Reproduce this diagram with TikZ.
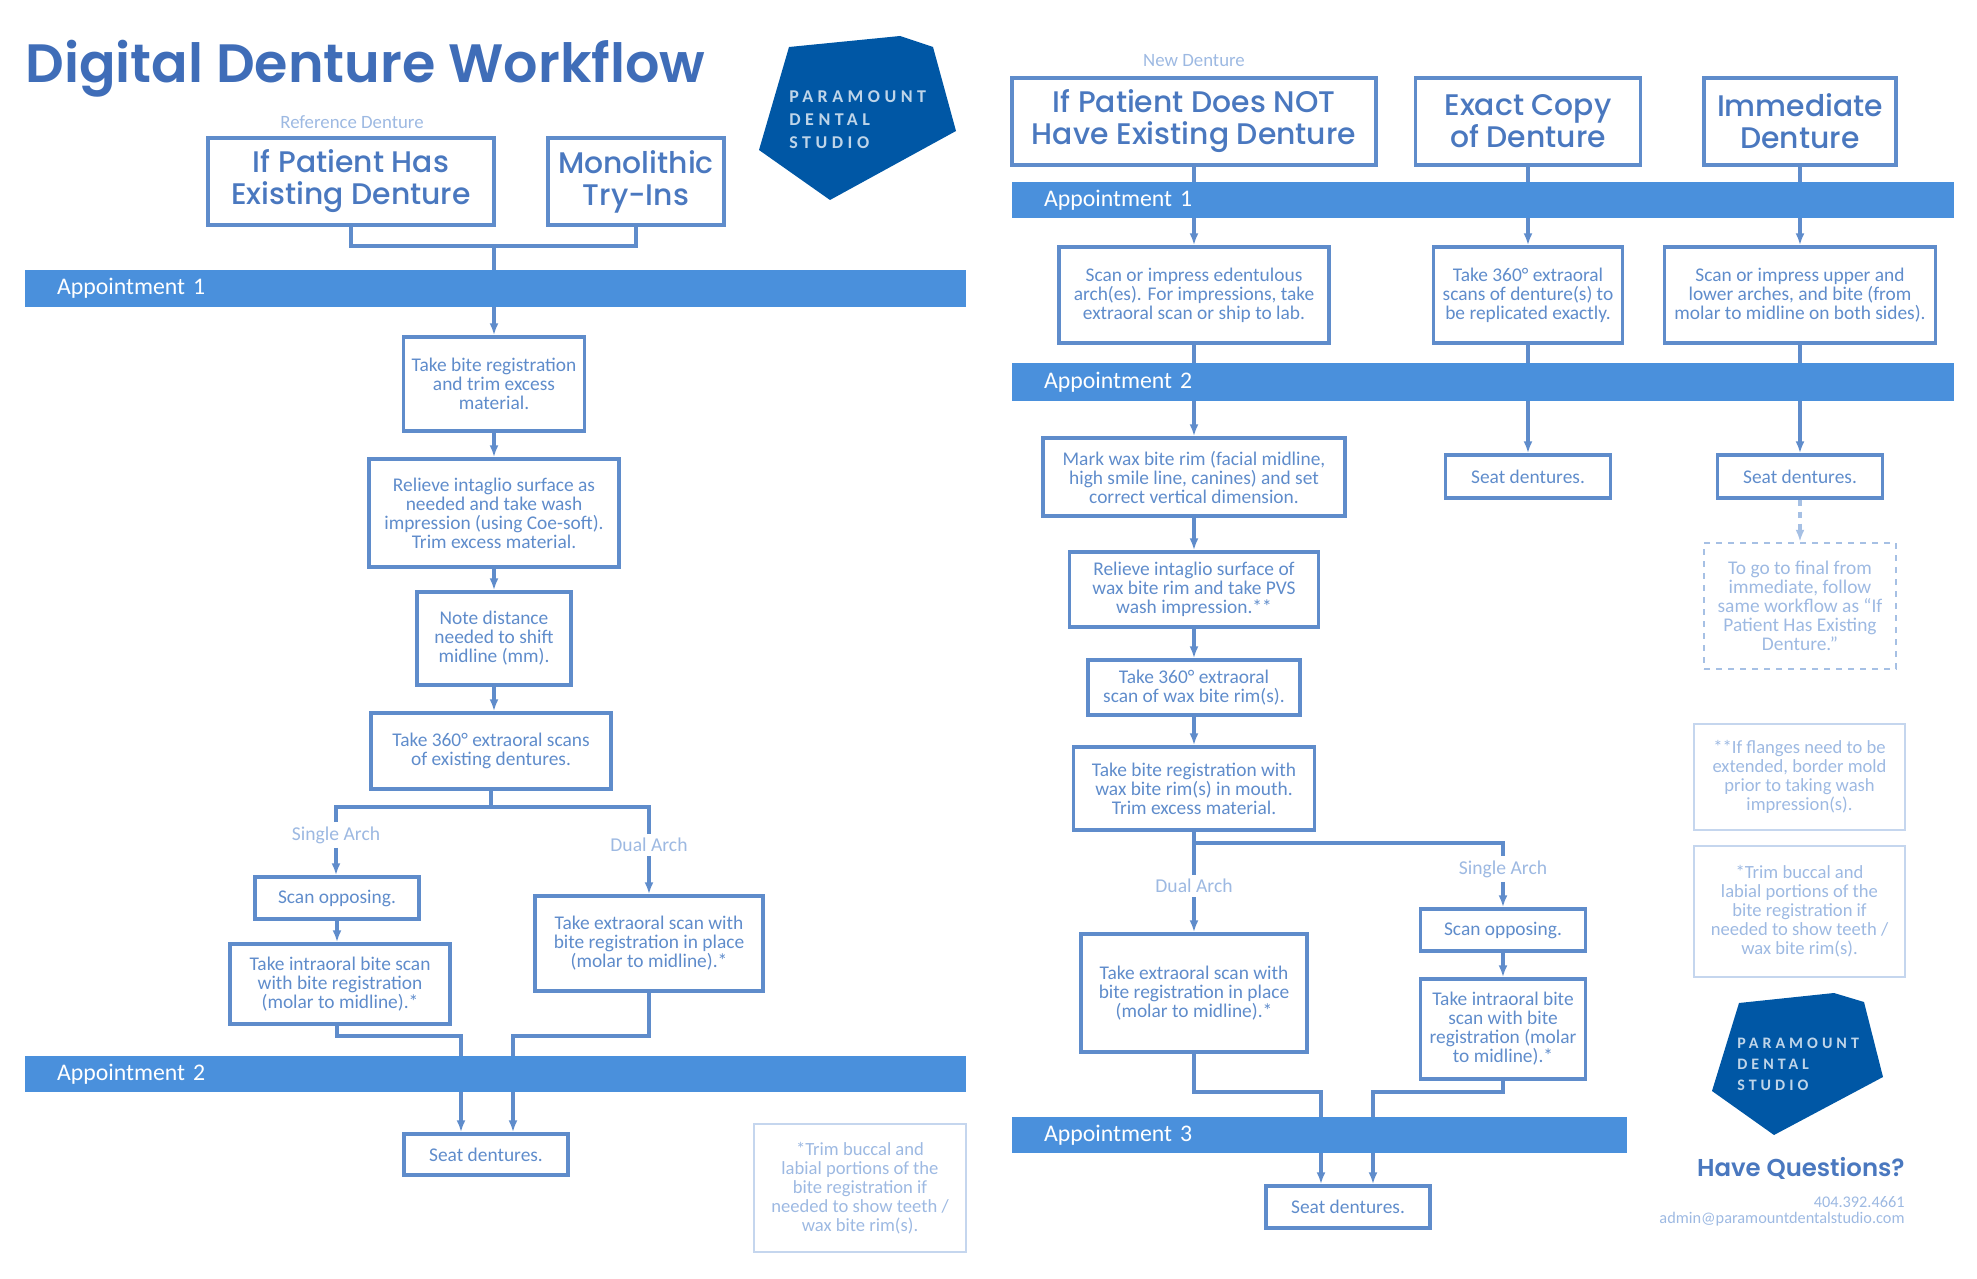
\documentclass[tikz,border=0pt]{standalone}
\usepackage{fontspec}
\setmainfont{Carlito}
\newfontfamily\headfont{Poppins Medium}
\newfontfamily\titlefont{Poppins SemiBold}
\usetikzlibrary{arrows.meta}
\definecolor{linkblue}{HTML}{5F8CCB}
\definecolor{headblue}{HTML}{4A78BF}
\definecolor{titleblue}{HTML}{3F6DB8}
\definecolor{bandblue}{HTML}{4A90DC}
\definecolor{logoblue}{HTML}{0057A5}
\definecolor{noteblue}{HTML}{C5D6EE}
\definecolor{notetext}{HTML}{9DB9E2}
\tikzset{
  stepbox/.style 2 args={draw=linkblue,line width=1.7pt,minimum width=#1*0.5pt,minimum height=#2*0.5pt,
    inner sep=0pt,align=center,text=linkblue,font=\fontsize{9.7}{9.5}\selectfont},
  headbox/.style 2 args={stepbox={#1}{#2},text=headblue,font=\headfont\fontsize{14.9}{16}\selectfont},
  notebox/.style 2 args={stepbox={#1}{#2},draw=noteblue,line width=1.2pt,text=notetext,font=\fontsize{9.3}{9.5}\selectfont},
  dashbox/.style 2 args={stepbox={#1}{#2},draw=noteblue!70!linkblue,line width=1.2pt,dashed,text=notetext},
  band/.style 2 args={fill=bandblue,minimum width=#1*0.5pt,minimum height=#2*0.5pt,inner ysep=0pt,inner xsep=16pt,
    text width=#1*0.5pt-32pt,align=left,text=white,font=\fontsize{11.9}{12}\selectfont},
  tag/.style={text=notetext,font=\fontsize{9.4}{9}\selectfont,inner sep=1pt},
  archtag/.style={fill=white,text=notetext,font=\fontsize{9.8}{9.5}\selectfont,inner sep=2pt},
  logotext/.style={text=white!75!logoblue,align=left,inner sep=0pt,anchor=north west,font=\bfseries\fontsize{9}{11.5}\selectfont\addfontfeature{LetterSpace=25}},
  flow/.style={draw=linkblue,line width=1.7pt},
  flowto/.style={flow,-{Latex[length=6pt,width=4.5pt]}}
}
\begin{document}
\begin{tikzpicture}[x=0.5pt,y=-0.5pt]
\useasboundingbox (0,0) rectangle (1977,1279);
\node[anchor=west,inner sep=0pt,text=titleblue,font=\titlefont\fontsize{27}{30}\selectfont] (title) at (25,69) {Digital Denture Workflow};
\fill[logoblue] (789,47) -- (900,36) -- (933,47) -- (956,131) -- (830,200) -- (759,150) -- cycle;
\node[logotext] (logoa) at (789,90) {PARAMOUNT\\DENTAL\\STUDIO};

\node[tag] (refname) at (352,122) {Reference Denture};
\node[headbox={286}{87}] (headhas) at (351,181.5) {If Patient Has\\Existing Denture};
\node[headbox={176}{87}] (headtry) at (636,181.5) {Monolithic\\Try-Ins};
\node[band={941}{37}] (refone) at (495.5,288.5) {Appointment 1};
\node[stepbox={181}{94}] (bite) at (494,384) {Take bite registration\\and trim excess\\material.};
\node[stepbox={250}{108}] (relieve) at (494,513) {Relieve intaglio surface as\\needed and take wash\\impression (using Coe-soft).\\Trim excess material.};
\node[stepbox={154}{93}] (shift) at (494,638.5) {Note distance\\needed to shift\\midline (mm).};
\node[stepbox={240}{76}] (scans) at (491,751) {Take 360° extraoral scans\\of existing dentures.};
\node[archtag] (single) at (336,835) {Single Arch};
\node[archtag] (dual) at (649,845) {Dual Arch};
\node[stepbox={164}{42}] (opp) at (337,898) {Scan opposing.};
\node[stepbox={220}{80}] (intra) at (340,984) {Take intraoral bite scan\\with bite registration\\(molar to midline).*};
\node[stepbox={228}{95}] (extra) at (649,943.5) {Take extraoral scan with\\bite registration in place\\(molar to midline).*};
\node[band={941}{36}] (reftwo) at (495.5,1074) {Appointment 2};
\node[stepbox={164}{41}] (seat) at (486,1154.5) {Seat dentures.};
\node[notebox={212}{128}] (trimref) at (860,1188) {*Trim buccal and\\labial portions of the\\bite registration if\\needed to show teeth /\\wax bite rim(s).};

\coordinate (stem) at (494,246);
\coordinate (split) at (491,807);
\coordinate (mergea) at (461,1036);
\coordinate (mergeb) at (513,1036);
\draw[flow] (headhas.south) |- (stem) -| (headtry.south);
\draw[flow] (stem) -- (stem |- refone.north);
\draw[flowto] (stem |- refone.south) -- (bite.north);
\draw[flowto] (bite.south) -- (relieve.north);
\draw[flowto] (relieve.south) -- (shift.north);
\draw[flowto] (shift.south) -- (shift.south |- scans.north);
\draw[flow] (scans.south) -- (split);
\draw[flow] (single.north) |- (split) -| (dual.north);
\draw[flowto] (single.south) -- (single.south |- opp.north);
\draw[flowto] (dual.south) -- (extra.north);
\draw[flowto] (opp.south) -- (opp.south |- intra.north);
\draw[flow] (opp.south |- intra.south) |- (mergea) -- (mergea |- reftwo.north);
\draw[flow] (extra.south) |- (mergeb) -- (mergeb |- reftwo.north);
\draw[flowto] (mergea |- reftwo.south) -- (mergea |- seat.north);
\draw[flowto] (mergeb |- reftwo.south) -- (mergeb |- seat.north);

\begin{scope}[xshift=-1pt]
\node[tag] (newname) at (1196,61) {New Denture};
\node[headbox={364}{87}] (headnew) at (1196,121.5) {If Patient Does NOT\\Have Existing Denture};
\node[headbox={225}{87}] (headcopy) at (1530,121.5) {Exact Copy\\of Denture};
\node[headbox={192}{87}] (headimm) at (1802,121.5) {Immediate\\Denture};
\node[band={942}{36}] (newone) at (1485,200) {Appointment 1};
\node[stepbox={270}{96}] (edent) at (1196,295) {Scan or impress edentulous\\arch(es). For impressions, take\\extraoral scan or ship to lab.};
\node[stepbox={189}{96}] (copyscan) at (1530,295) {Take 360° extraoral\\scans of denture(s) to\\be replicated exactly.};
\node[stepbox={271}{96}] (upper) at (1802,295) {Scan or impress upper and\\lower arches, and bite (from\\molar to midline on both sides).};
\node[band={942}{38}] (newtwo) at (1485,382) {Appointment 2};
\node[stepbox={302}{78}] (mark) at (1196,477) {Mark wax bite rim (facial midline,\\high smile line, canines) and set\\correct vertical dimension.};
\node[stepbox={165}{43}] (seatcopy) at (1530,476.5) {Seat dentures.};
\node[stepbox={165}{43}] (seatimm) at (1802,476.5) {Seat dentures.};
\node[dashbox={192}{126}] (tofinal) at (1802,606) {To go to final from\\immediate, follow\\same workflow as ``If\\Patient Has Existing\\Denture.''};
\node[stepbox={249}{75}] (relwax) at (1196,589.5) {Relieve intaglio surface of\\wax bite rim and take PVS\\wash impression.**};
\node[stepbox={212}{55}] (scanwax) at (1196,687.5) {Take 360° extraoral\\scan of wax bite rim(s).};
\node[stepbox={241}{83}] (biterim) at (1196,788.5) {Take bite registration with\\wax bite rim(s) in mouth.\\Trim excess material.};
\node[archtag] (dualnew) at (1196,886) {Dual Arch};
\node[archtag] (singlenew) at (1505,869) {Single Arch};
\node[stepbox={226}{118}] (extranew) at (1196,993) {Take extraoral scan with\\bite registration in place\\(molar to midline).*};
\node[stepbox={165}{42}] (oppnew) at (1505,930) {Scan opposing.};
\node[stepbox={165}{100}] (intranew) at (1505,1029) {Take intraoral bite\\scan with bite\\registration (molar\\to midline).*};
\node[band={615}{36}] (newthree) at (1321.5,1135) {Appointment 3};
\node[stepbox={164}{42}] (seatnew) at (1350,1207) {Seat dentures.};
\node[notebox={211}{106}] (flange) at (1801.5,777) {**If flanges need to be\\extended, border mold\\prior to taking wash\\impression(s).};
\node[notebox={211}{131}] (trimnew) at (1801.5,911.5) {*Trim buccal and\\labial portions of the\\bite registration if\\needed to show teeth /\\wax bite rim(s).};
\fill[logoblue] (1741,1003) -- (1836,993) -- (1866,1002) -- (1885,1077) -- (1776,1135) -- (1714,1091) -- cycle;
\node[logotext,font=\bfseries\fontsize{8}{10.3}\selectfont\addfontfeature{LetterSpace=25}] (logob) at (1739,1038) {PARAMOUNT\\DENTAL\\STUDIO};
\node[anchor=east,inner sep=0pt,text=headblue,font=\titlefont\fontsize{12.2}{13}\selectfont] (ask) at (1907,1168) {Have Questions?};
\node[anchor=east,inner sep=0pt,text=notetext,font=\fontsize{8.15}{9}\selectfont] (phone) at (1907,1202) {404.392.4661};
\node[anchor=east,inner sep=0pt,text=notetext,font=\fontsize{8.15}{9}\selectfont] (mail) at (1907,1219) {admin@paramountdentalstudio.com};

\coordinate (splitnew) at (1196,843);
\coordinate (mergec) at (1323,1092);
\coordinate (merged) at (1375,1092);
\draw[flow] (headnew.south) -- (headnew.south |- newone.north);
\draw[flow] (headcopy.south) -- (headcopy.south |- newone.north);
\draw[flow] (headimm.south) -- (headimm.south |- newone.north);
\draw[flowto] (edent.north |- newone.south) -- (edent.north);
\draw[flowto] (copyscan.north |- newone.south) -- (copyscan.north);
\draw[flowto] (upper.north |- newone.south) -- (upper.north);
\draw[flow] (edent.south) -- (edent.south |- newtwo.north);
\draw[flow] (copyscan.south) -- (copyscan.south |- newtwo.north);
\draw[flow] (upper.south) -- (upper.south |- newtwo.north);
\draw[flowto] (mark.north |- newtwo.south) -- (mark.north);
\draw[flowto] (seatcopy.north |- newtwo.south) -- (seatcopy.north);
\draw[flowto] (seatimm.north |- newtwo.south) -- (seatimm.north);
\draw[flowto,dashed,draw=noteblue!70!linkblue] (seatimm.south) -- (tofinal.north);
\draw[flowto] (mark.south) -- (relwax.north);
\draw[flowto] (relwax.south) -- (scanwax.north);
\draw[flowto] (scanwax.south) -- (biterim.north);
\draw[flow] (biterim.south) -- (dualnew.north);
\draw[flow] (splitnew) -| (singlenew.north);
\draw[flowto] (dualnew.south) -- (extranew.north);
\draw[flowto] (singlenew.south) -- (oppnew.north);
\draw[flowto] (oppnew.south) -- (intranew.north);
\draw[flow] (extranew.south) |- (mergec) -- (mergec |- newthree.north);
\draw[flow] (intranew.south) |- (merged) -- (merged |- newthree.north);
\draw[flowto] (mergec |- newthree.south) -- (mergec |- seatnew.north);
\draw[flowto] (merged |- newthree.south) -- (merged |- seatnew.north);
\end{scope}
\end{tikzpicture}
\end{document}
